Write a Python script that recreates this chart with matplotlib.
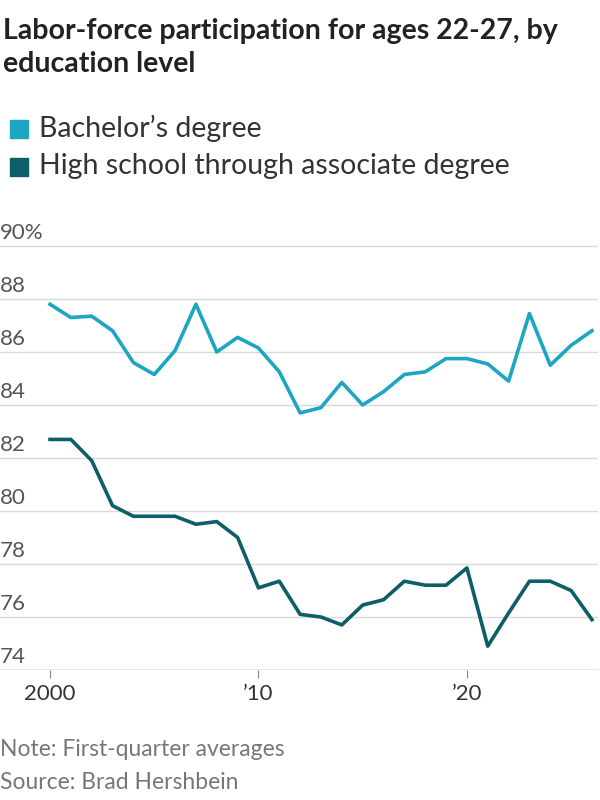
import matplotlib
matplotlib.use("Agg")
import matplotlib.pyplot as plt
import matplotlib.transforms as mt

years = list(range(2000, 2027))
bachelor = [87.8, 87.3, 87.35, 86.8, 85.6, 85.15, 86.05, 87.8, 86.0, 86.55, 86.15, 85.25,
            83.7, 83.9, 84.85, 84.0, 84.5, 85.15, 85.25, 85.75, 85.75, 85.55, 84.9, 87.45,
            85.5, 86.25, 86.8]
highschool = [82.7, 82.7, 81.9, 80.2, 79.8, 79.8, 79.8, 79.5, 79.6, 79.0, 77.1, 77.35,
              76.1, 76.0, 75.7, 76.45, 76.65, 77.35, 77.2, 77.2, 77.85, 74.9, 76.15, 77.35,
              77.35, 77.0, 75.9]
yticks = [74, 76, 78, 80, 82, 84, 86, 88, 90]
ylabels = ["74", "76", "78", "80", "82", "84", "86", "88", "90%"]
xticks = [2000, 2010, 2020]
xlabels = ["2000", "\u201910", "\u201920"]

C1, C2 = "#1ea5c2", "#0c5f66"
GRID, GREY = "#d9d9d9", "#777777"
plt.rcParams['font.family'] = ['Lato', 'DejaVu Sans']

fig = plt.figure(figsize=(6, 8), dpi=100)
ax = fig.add_axes([0.0, 0.1625, 0.997, 0.54])
ax.set_xlim(1997.6, 2026.3)
ax.set_ylim(74, 90.3)
for s in ax.spines.values():
    s.set_visible(False)
for t in yticks:
    ax.axhline(t, color="#888888" if t == 74 else GRID, lw=1, zorder=0)
ax.set_yticks([])
ax.set_xticks(xticks)
ax.set_xticklabels(xlabels, fontsize=16, color="#333333")
ax.tick_params(axis="x", length=6, color="#888888", pad=4)
tr = mt.blended_transform_factory(ax.transAxes, ax.transData)
for t, l in zip(yticks, ylabels):
    ax.text(0.0, t + 0.12, l, transform=tr, fontsize=16, color="#555555", va="bottom", ha="left")
ax.plot(years, bachelor, color=C1, lw=2.6, solid_joinstyle="round")
ax.plot(years, highschool, color=C2, lw=2.6, solid_joinstyle="round")

fig.text(0.005, 0.978, "Labor-force participation for ages 22-27, by\neducation level",
         fontsize=20.5, fontweight="bold", va="top", ha="left", color="#222222", linespacing=1.35)
for y, c, l in [(0.84, C1, "Bachelor\u2019s degree"), (0.792, C2, "High school through associate degree")]:
    fig.patches.append(plt.Rectangle((0.017, y - 0.012), 0.03, 0.0225, transform=fig.transFigure, color=c))
    fig.text(0.065, y, l, fontsize=20.5, va="center", ha="left", color="#333333")
fig.text(0.0, 0.063, "Note: First-quarter averages", fontsize=16.5, color=GREY, va="center")
fig.text(0.0, 0.022, "Source: Brad Hershbein", fontsize=16.5, color=GREY, va="center")
fig.savefig("out.png", dpi=100)
